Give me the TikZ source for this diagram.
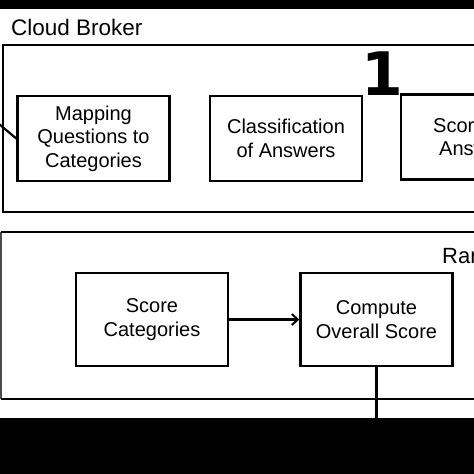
\documentclass[tikz,border=0pt]{standalone}
\usepackage{fontspec}
\setmainfont{Liberation Sans}
\newfontfamily\numfont{DejaVu Sans}
\usetikzlibrary{arrows.meta}
\begin{document}
\begin{tikzpicture}[x=1pt,y=-1pt,
  procbox/.style={draw=black,line width=2.4pt,minimum width=152pt,minimum height=85pt,inner sep=0pt,align=center,font=\fontsize{20}{23.5}\selectfont},
  groupbox/.style={draw=black,line width=2pt},
  conn/.style={draw=black,line width=2.2pt}]
\useasboundingbox (0,0) rectangle (474,474);
\clip (0,0) rectangle (474,474);
\fill[white] (0,0) rectangle (474,474);
% black bars
\fill[black] (0,0) rectangle (474,9);
\fill[black] (0,418) rectangle (474,474);
% group boxes
\draw[groupbox] (2.7,45) rectangle (490,212);
\draw[groupbox,draw=black!70] (1,232) -- (1,399);
\draw[groupbox] (490,232) -- (1,232) (1,399) -- (490,399);
\node[anchor=base west,inner sep=0pt,font=\fontsize{22.5}{26}\selectfont] (cb) at (11,35) {Cloud Broker};
\node[anchor=base west,inner sep=0pt,font=\fontsize{22}{26}\selectfont] (ra) at (442,263) {Ranking};
\node[anchor=base,inner sep=0pt,font=\numfont\bfseries\fontsize{60}{60}\selectfont] (one) at (382,95) {1};
% boxes
\node[procbox] (map) at (93.5,138.5) {Mapping\\Questions to\\Categories};
\node[procbox] (cls) at (286,138.5) {Classification\\of Answers};
\node[procbox,minimum width=160pt] (sa) at (481,137) {};
\node[anchor=north west,inner sep=0pt,align=left,font=\fontsize{20}{23.5}\selectfont] (satext) at (433,118) {Score\\\hspace*{6pt}Answers};
\node[procbox,minimum height=93pt] (sc) at (152,319.5) {Score\\Categories};
\node[procbox,minimum height=93pt] (cos) at (376.5,319.5) {Compute\\Overall Score};
% connectors
\coordinate (lin) at (-4,121.5);
\draw[conn] (lin) -- (map.west);
\draw[conn,-{Straight Barb[length=6pt,width=11pt,line width=2pt]}] (sc.east) -- (cos.west);
\coordinate (down) at (376.5,420);
\draw[conn] (cos.south) -- (down);
\end{tikzpicture}
\end{document}
